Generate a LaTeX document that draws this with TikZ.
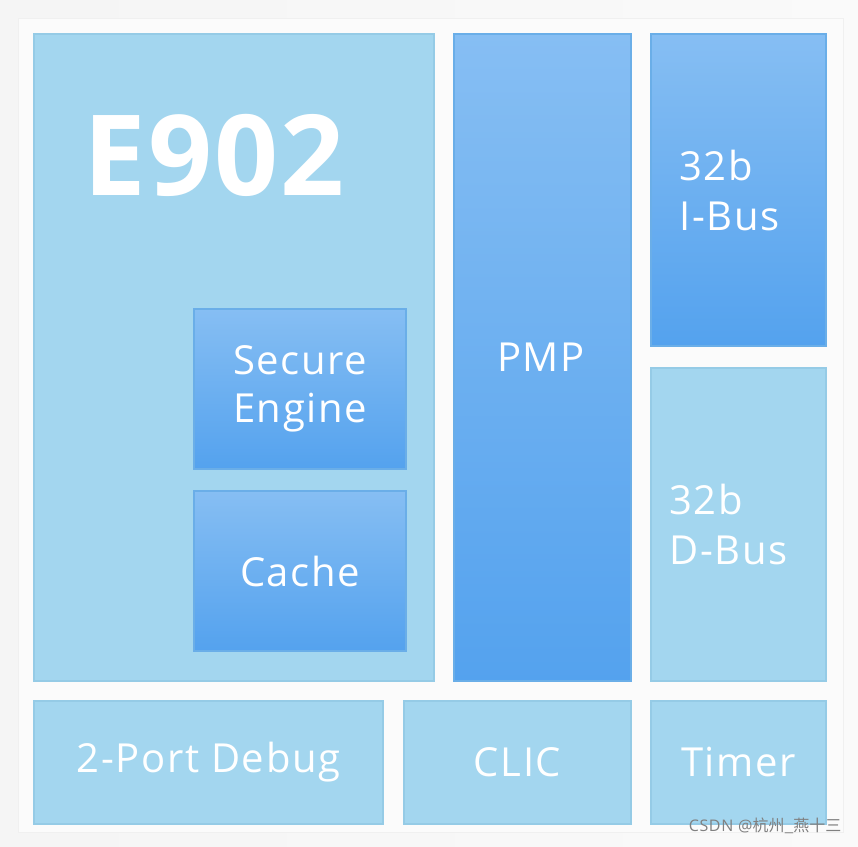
\documentclass[tikz,border=0pt]{standalone}
\usepackage{fontspec}
\setmainfont{Open Sans}[LetterSpace=4]
\newfontfamily\bigf{Open Sans}[LetterSpace=2]
\newfontfamily\cjk{Noto Sans CJK SC}
\begin{document}
\begin{tikzpicture}[x=1pt,y=-1pt,
  light/.style={fill=lightblk,draw=lightedge,line width=2pt},
  dark/.style={top color=darktop,bottom color=darkbot,draw=darkedge,line width=2pt},
  lbl/.style={text=white,font=\fontsize{40}{50}\selectfont,align=left}]
\definecolor{lightblk}{HTML}{A3D6EF}
\definecolor{lightedge}{HTML}{95CBE6}
\definecolor{darktop}{HTML}{86BEF3}
\definecolor{darkbot}{HTML}{54A2EE}
\definecolor{darkedge}{HTML}{6AAEE8}
\useasboundingbox (0,0) rectangle (858,846);
\fill[left color=white!92!gray, right color=white!96!gray] (0,0) rectangle (858,846);
\fill[white!97!gray,draw=white!88!gray,line width=1pt] (18,18) rectangle (843,832);
\node[light,minimum width=400,minimum height=647,anchor=north west] (e902) at (33,33) {};
\node[text=white,font=\bigf\fontsize{112}{112}\selectfont\bfseries,anchor=west] (t) at (80,155) {E902};
\node[dark,minimum width=212,minimum height=160,anchor=north west,lbl,align=center] (se) at (193,308) {Secure\\[-2pt]Engine};
\node[dark,minimum width=212,minimum height=160,anchor=north west,lbl] (ca) at (193,490) {Cache};
\node[dark,minimum width=177,minimum height=647,anchor=north west] (pmp) at (453,33) {};
\node[lbl] at (541,357) {PMP};
\node[dark,minimum width=175,minimum height=312,anchor=north west] (ib) at (650,33) {};
\node[lbl,anchor=west] at (676,190) {32b\\I-Bus};
\node[light,minimum width=175,minimum height=313,anchor=north west] (db) at (650,367) {};
\node[lbl,anchor=west] at (666,524) {32b\\D-Bus};
\node[light,minimum width=349,minimum height=123,anchor=north west,lbl] (dbg) at (33,700) {2-Port Debug};
\node[light,minimum width=227,minimum height=123,anchor=north west,lbl] (clic) at (403,700) {CLIC};
\node[light,minimum width=175,minimum height=123,anchor=north west,lbl] (tm) at (650,700) {Timer};
\node[text=gray,font=\fontsize{16}{18}\selectfont,anchor=east] (wm) at (845,826) {CSDN @{\cjk 杭州\_燕十三}};
\end{tikzpicture}
\end{document}
